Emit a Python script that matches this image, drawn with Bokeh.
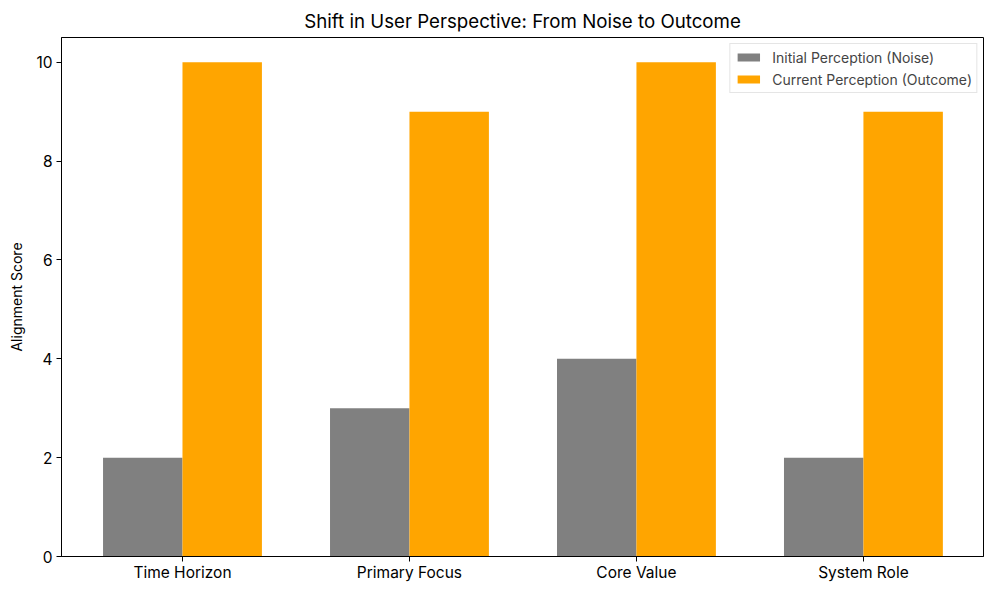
from bokeh.plotting import figure
from bokeh.models import ColumnDataSource, Range1d, FixedTicker, Legend, LegendItem
from bokeh.transform import dodge
from bokeh.embed import file_html
from bokeh.resources import INLINE

categories = ["Time Horizon", "Primary Focus", "Core Value", "System Role"]
initial = [2, 3, 4, 2]
current = [10, 9, 10, 9]
xpos = list(range(len(categories)))
yticks = [0, 2, 4, 6, 8, 10]

src = ColumnDataSource(dict(x=xpos, initial=initial, current=current))

FONT = "Inter"
p = figure(width=984, height=584, output_backend="svg", toolbar_location=None,
           x_range=Range1d(-0.533, 3.529), y_range=Range1d(0, 10.5),
           min_border_left=61, min_border_right=1, min_border_top=37, min_border_bottom=25)

p.title.text = "Shift in User Perspective: From Noise to Outcome"
p.title.align = "center"
p.title.text_font = FONT
p.title.text_font_size = "18.7px"
p.title.text_font_style = "normal"
p.title.text_color = "black"

r1 = p.vbar(x=dodge("x", -0.175), top="initial", width=0.35, source=src,
            fill_color="#808080", line_color=None)
r2 = p.vbar(x=dodge("x", 0.175), top="current", width=0.35, source=src,
            fill_color="#FFA500", line_color=None)

p.xgrid.visible = False
p.ygrid.visible = False
p.outline_line_color = "black"
p.outline_line_width = 1
p.outline_line_alpha = 1

p.xaxis.ticker = FixedTicker(ticks=xpos)
p.xaxis.major_label_overrides = {i: c for i, c in enumerate(categories)}
p.yaxis.ticker = FixedTicker(ticks=yticks)
for ax in (p.xaxis, p.yaxis):
    ax.major_label_text_font = FONT
    ax.major_label_text_font_size = "15.5px"
    ax.major_label_text_color = "black"
    ax.major_tick_in = 0
    ax.major_tick_out = 5
    ax.minor_tick_in = 0
    ax.minor_tick_out = 0
    ax.axis_line_color = "black"
    ax.major_tick_line_color = "black"
p.yaxis.major_label_standoff = 4
p.xaxis.major_label_standoff = 1
p.yaxis.axis_label = "Alignment Score"
p.yaxis.axis_label_text_font = FONT
p.yaxis.axis_label_text_font_size = "14px"
p.yaxis.axis_label_text_font_style = "normal"
p.yaxis.axis_label_text_color = "black"
p.yaxis.axis_label_standoff = 8

legend = Legend(items=[LegendItem(label="Initial Perception (Noise)", renderers=[r1]),
                       LegendItem(label="Current Perception (Outcome)", renderers=[r2])],
                location="top_right")
legend.margin = 6
legend.padding = 4
legend.spacing = 4
legend.glyph_width = 28
legend.glyph_height = 10
legend.label_standoff = 10
legend.label_text_font = FONT
legend.label_text_font_size = "14px"
legend.label_height = 18
legend.border_line_color = "#cccccc"
legend.background_fill_alpha = 0.8
p.add_layout(legend)

open("out.html", "w").write(file_html(p, INLINE))
